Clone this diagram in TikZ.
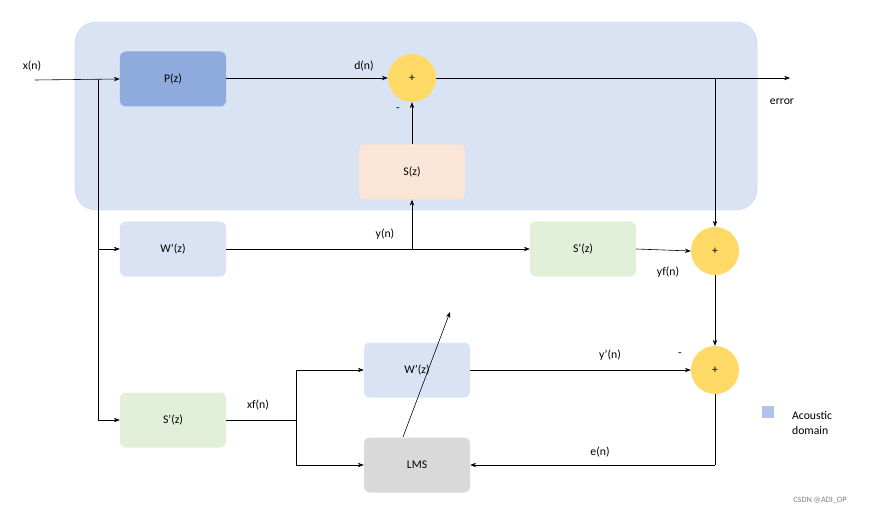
\documentclass[tikz,border=0pt]{standalone}
\usepackage{fontspec}
\setmainfont{Carlito}
\usetikzlibrary{arrows.meta}
\definecolor{dom}{HTML}{DAE3F3}
\definecolor{domb}{HTML}{C5D3EC}
\definecolor{pz}{HTML}{8FAADC}
\definecolor{sz}{HTML}{FBE5D6}
\definecolor{gr}{HTML}{E2F0D9}
\definecolor{yl}{HTML}{FFD966}
\definecolor{lms}{HTML}{D9D9D9}
\begin{document}
\begin{tikzpicture}[x=0.03cm,y=-0.03cm,font=\fontsize{10}{12}\selectfont,
  blk/.style={rounded corners=5pt,minimum width=3.18cm,minimum height=1.65cm,inner sep=0pt},
  sum/.style={circle,fill=yl,minimum size=1.44cm,inner sep=0pt},
  ar/.style={-{Stealth[length=5pt]},line width=0.5pt},
  ln/.style={line width=0.5pt}]
\useasboundingbox (0,0) rectangle (877,516);
\node[fill=dom,draw=domb,rounded corners=18pt,minimum width=20.46cm,minimum height=5.64cm] (dom) at (416,116) {};
\node[blk,fill=pz] (P) at (173,79) {P(z)};
\node[sum] (s1) at (412,78) {+};
\node[blk,fill=sz] (S) at (412,172) {S(z)};
\node[blk,fill=dom] (W1) at (173,249) {W'(z)};
\node[blk,fill=gr] (S1) at (583,249) {S'(z)};
\node[sum] (s2) at (715,251) {+};
\node[sum] (s3) at (715,370) {+};
\node[blk,fill=dom] (W2) at (417,370) {W'(z)};
\node[blk,fill=lms] (L) at (417,465) {LMS};
\node[blk,fill=gr] (S2) at (173,420) {S'(z)};
\coordinate (xin) at (35,80);
\coordinate (err) at (790,78);
\coordinate (b1) at (98,80);
\coordinate (b2) at (98,249);
\coordinate (b3) at (98,420);
\coordinate (c1) at (412,249);
\coordinate (e1) at (715,78);
\coordinate (f1) at (296,420);
\coordinate (f2) at (296,370);
\coordinate (f3) at (296,465);
\coordinate (g1) at (715,465);
\coordinate (t1) at (403,437);
\coordinate (t2) at (450,312);
\draw[ar] (xin) -- (P.west);
\draw[ar] (P.east |- s1) -- (s1.west);
\draw[ar] (s1.east) -- (err);
\draw[ar] (S.north) -- (s1.south);
\draw[ln] (b1) -- (b3);
\draw[ar] (b2) -- (W1.west);
\draw[ar] (b3) -- (S2.west);
\draw[ar] (W1.east) -- (S1.west);
\draw[ar] (c1) -- (S.south);
\draw[ar] (S1.east) -- (s2.west);
\draw[ar] (e1) -- (s2.north);
\draw[ar] (s2.south) -- (s3.north);
\draw[ar] (W2.east) -- (s3.west);
\draw[ln] (S2.east) -- (f1);
\draw[ln] (f2) -- (f3);
\draw[ar] (f2) -- (W2.west);
\draw[ar] (f3) -- (L.west);
\draw[ln] (s3.south) -- (g1);
\draw[ar] (g1) -- (L.east);
\draw[ar] (t1) -- (t2);
\node (lx) at (32,66) {x(n)};
\node (ld) at (364,66) {d(n)};
\node (le) at (782,102) {error};
\node (lm1) at (398,110) {-};
\node (ly) at (385,234) {y(n)};
\node (lyf) at (668,272) {yf(n)};
\node (lm2) at (680,355) {-};
\node (lyp) at (610,355) {y'(n)};
\node (lxf) at (258,405) {xf(n)};
\node (len) at (600,452) {e(n)};
\node[fill=pz!70,minimum size=0.36cm,inner sep=0pt] (leg) at (768,412) {};
\node[align=left,anchor=west] (legt) at (788,423) {Acoustic\\domain};
\node[text=gray,font=\fontsize{7}{8}\selectfont] (wm) at (820,500) {CSDN @ADI\_OP};
\end{tikzpicture}
\end{document}
